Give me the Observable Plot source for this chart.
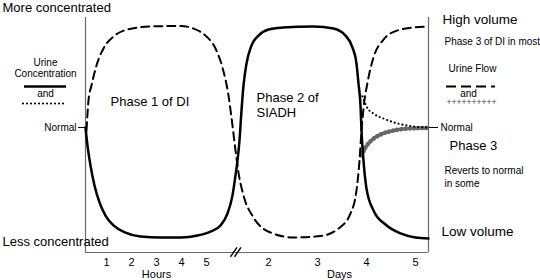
<!DOCTYPE html>
<html><head><meta charset="utf-8">
<script src="https://cdn.jsdelivr.net/npm/d3@7"></script>
<script src="https://cdn.jsdelivr.net/npm/@observablehq/plot@0.6"></script>
<style>html,body{margin:0;padding:0;background:#fff}</style>
</head><body><div id="chart"></div>
<script>
// ---- data (x in chart time units: hours 0..6, then days after the axis break) ----
const hourTicks = [1, 2, 3, 4, 5];
const dayTicks = [2, 3, 4, 5];
const normalLevel = 53.2;   // "Normal" on both vertical scales
const breakAt = 6.24;       // position of the // axis break

// Urine concentration (solid)
const concT = [0.16,0.24,0.36,0.52,0.72,0.96,1.28,1.76,2.36,3.16,3.96,4.64,5.16,5.56,5.84,6.04,6.16,6.24,6.32,6.40,6.48,6.60,6.80,7.08,7.48,8.04,9.28,10.08,10.56,10.84,11.0,11.08,11.16,11.2,11.28,11.4,11.68,12.16,12.76,13.36,13.88];
const concV = [53.2,45.5,37.0,28.5,21.3,15.7,11.5,8.5,6.8,6.4,6.4,7.2,8.9,11.5,16.6,24.3,32.8,39.1,47.7,60.4,71.1,80.4,88.1,92.3,94.9,95.7,96.2,95.3,92.3,87.2,80.4,71.9,62.6,51.9,39.1,27.2,17.9,11.9,8.1,6.4,6.0];
// Urine flow (dashed)
const flowT = [0.2,0.28,0.4,0.6,0.88,1.28,1.84,2.76,3.96,4.48,4.96,5.36,5.64,5.88,6.04,6.16,6.28,6.48,6.88,7.56,8.48,9.56,10.28,10.76,11.0,11.12,11.2,11.28,11.44,11.68,12.08,12.64,13.24,13.88];
const flowV = [51.9,64.7,71.1,79.6,86.8,91.9,94.9,96.2,96.4,95.3,92.3,86.8,78.7,66.8,54.0,43.4,34.0,24.3,14.9,8.5,6.4,7.0,10.2,16.6,26.4,39.1,51.9,61.3,72.3,83.0,90.6,94.5,95.7,96.2];
// Phase 3, reverting to normal: concentration (dotted) and flow (plus)
const concAltT = [11.24,11.4,11.68,12.08,12.64,13.28,13.88];
const concAltV = [66.4,62.1,59.1,57.0,54.9,53.6,53.2];
const flowAltT = [11.2,11.36,11.64,11.96,12.48,13.16,13.88];
const flowAltV = [41.3,44.7,48.1,50.2,51.9,52.8,53.0];

const toRows = (T, V) => T.map((t, i) => ({t, v: V[i]}));
const conc = toRows(concT, concV);
const flow = toRows(flowT, flowV);
const concAlt = toRows(concAltT, concAltV);
const flowAlt = toRows(flowAltT, flowAltV);
const dayPos = d => 3.56 + 1.96 * d;

const AX = "#6a6a6a";
const lbl = (s, x, y, o = {}) => Plot.text([s], {x: () => x, y: () => y, text: d => d, fill: "black", fontSize: 10, ...o});

const chart = Plot.plot({
  width: 540, height: 280, margin: 0,
  x: {domain: [0.16, 13.88], range: [85, 428], axis: null},
  y: {domain: [0, 100], range: [252, 17], axis: null},
  style: {fontFamily: "'Liberation Sans', Arial, Helvetica, sans-serif", background: "white", color: "black", overflow: "visible"},
  marks: [
    // frame lines
    Plot.ruleX([0.16, 13.88], {y1: 0, y2: 100, stroke: AX, strokeWidth: 1.2}),
    Plot.ruleY([0], {x1: 0.16, x2: 13.88, stroke: AX, strokeWidth: 1.2}),
    // normal ticks
    Plot.ruleY([normalLevel], {x1: -0.12, x2: 0.16, stroke: "black", strokeWidth: 1}),
    Plot.ruleY([normalLevel], {x1: 13.88, x2: 14.28, stroke: "black", strokeWidth: 1}),
    // axis break //
    Plot.link([-0.14, 0.02], {x1: d => breakAt + d - 0.14, y1: -1.8, x2: d => breakAt + d + 0.12, y2: 2.2, stroke: "black", strokeWidth: 1.4}),
    // curves
    Plot.line(flowAlt, {x: "t", y: "v", curve: "monotone-x", stroke: "#666", strokeWidth: 0.7}),
    Plot.line(flowAlt, {x: "t", y: "v", curve: "monotone-x", stroke: "#666", strokeWidth: 4.5, strokeDasharray: "0.6,3.6"}),
    Plot.line(concAlt, {x: "t", y: "v", curve: "monotone-x", stroke: "black", strokeWidth: 2.2, strokeDasharray: "0,4", strokeLinecap: "round"}),
    Plot.line(flow, {x: "t", y: "v", curve: "monotone-x", stroke: "black", strokeWidth: 2, strokeDasharray: "8,5"}),
    Plot.line(conc, {x: "t", y: "v", curve: "monotone-x", stroke: "black", strokeWidth: 2.5}),
    // tick labels
    Plot.text(hourTicks, {x: d => d, y: -4.3, text: d => String(d), fontSize: 11, fill: "black"}),
    Plot.text(dayTicks, {x: d => dayPos(d), y: -4.3, text: d => String(d), fontSize: 11, fill: "black"}),
    lbl("Hours", 3.0, -9.4, {fontSize: 11}),
    lbl("Days", 10.32, -9.4, {fontSize: 11}),
    // left annotations
    lbl("More concentrated", -3.16, 104.3, {fontSize: 13, textAnchor: "start"}),
    lbl("Less concentrated", -3.16, 4.7, {fontSize: 13, textAnchor: "start"}),
    lbl("Urine\nConcentration", -1.44, 78.5, {lineHeight: 1.1}),
    Plot.ruleY([70.6], {x1: -2.28, x2: -0.6, stroke: "black", strokeWidth: 2.5}),
    lbl("and", -1.44, 67.4),
    Plot.ruleY([63.4], {x1: -2.32, x2: -0.68, stroke: "black", strokeWidth: 2.2, strokeDasharray: "0,4", strokeLinecap: "round"}),
    lbl("Normal", -0.2, normalLevel, {textAnchor: "end"}),
    lbl("Phase 1 of DI", 1.16, 64.0, {fontSize: 13, textAnchor: "start"}),
    lbl("Phase 2 of\nSIADH", 7.0, 62.8, {fontSize: 13, textAnchor: "start", lineHeight: 1.15}),
    // right annotations
    lbl("High volume", 14.44, 99.1, {fontSize: 13.5, textAnchor: "start"}),
    lbl("Phase 3 of DI in most", 14.52, 89.8, {textAnchor: "start"}),
    lbl("Urine Flow", 15.64, 78.3),
    Plot.ruleY([70.6], {x1: 14.6, x2: 16.56, stroke: "black", strokeWidth: 2, strokeDasharray: "10,5"}),
    lbl("and", 15.48, 67.6),
    lbl("++++++++++", 15.6, 63.8, {fontSize: 8.6, fill: "#444"}),
    lbl("Normal", 14.36, normalLevel, {textAnchor: "start"}),
    lbl("Phase 3", 14.72, 45.5, {fontSize: 13, textAnchor: "start"}),
    lbl("Reverts to normal\nin some", 14.52, 32.6, {textAnchor: "start", lineHeight: 1.3}),
    lbl("Low volume", 14.4, 8.9, {fontSize: 13.5, textAnchor: "start"})
  ]
});
document.getElementById("chart").appendChild(chart);
</script>
</body></html>
